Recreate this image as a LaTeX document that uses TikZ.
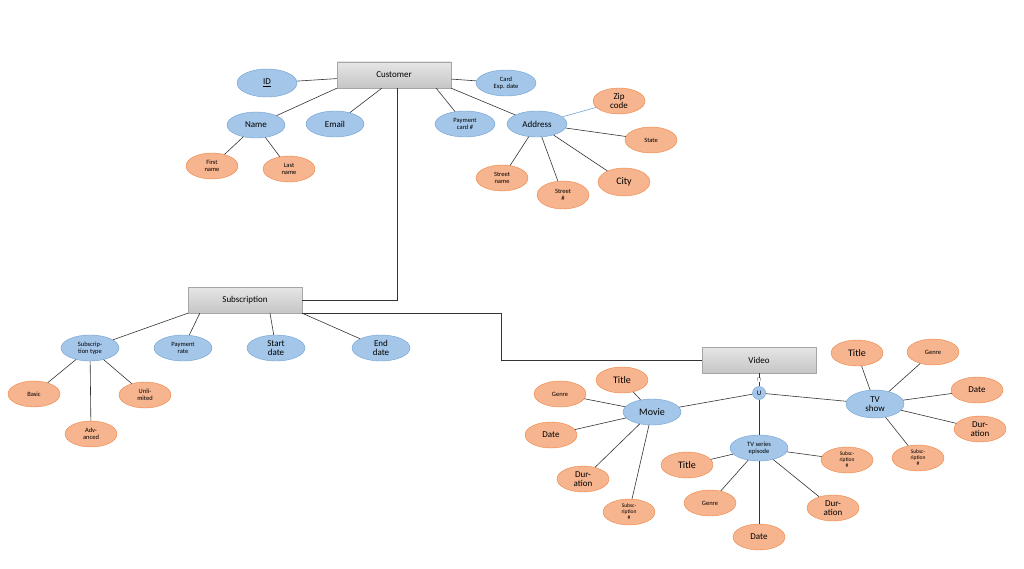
\documentclass[tikz,border=0pt]{standalone}
\usepackage{fontspec}
\setmainfont{Carlito}
\usetikzlibrary{shapes.geometric}
\definecolor{bfill}{HTML}{A4C6E8}
\definecolor{bdraw}{HTML}{6F9FD3}
\definecolor{ofill}{HTML}{F6B48F}
\definecolor{odraw}{HTML}{EE8440}
\begin{document}
\begin{tikzpicture}[x=1pt,y=-1pt,
  ent/.style={draw=gray!70,top color=gray!20,bottom color=gray!45,minimum width=114pt,minimum height=26pt,font=\fontsize{9}{10}\selectfont,inner sep=0pt},
  ba/.style={ellipse,draw=bdraw,fill=bfill,minimum width=58pt,minimum height=26pt,inner sep=0pt,align=center,font=\fontsize{9}{9}\selectfont},
  oa/.style={ellipse,draw=odraw,fill=ofill,minimum width=52pt,minimum height=26pt,inner sep=0pt,align=center,font=\fontsize{9}{9}\selectfont},
  sm/.style={font=\fontsize{6.5}{7}\selectfont},
  ln/.style={draw=black!80,line width=0.6pt}]
\useasboundingbox (0,0) rectangle (1024,569);
\node[ent] (cust) at (394,75) {Customer};
\node[ent] (sub) at (245,300) {Subscription};
\node[ent] (vid) at (759,360) {Video};
% customer attrs
\node[ba,minimum width=60pt,minimum height=28pt] (id) at (267,83) {\underline{ID}};
\node[ba] (name) at (256,125) {Name};
\node[ba] (email) at (335,124) {Email};
\node[ba,minimum width=60pt,sm] (pay) at (465,124) {Payment\\card \#};
\node[ba,minimum width=60pt] (addr) at (537,124) {Address};
\node[ba,minimum width=60pt,sm] (card) at (506,83) {Card\\Exp. date};
\node[oa] (zip) at (619,101) {Zip\\code};
\node[oa,sm] (state) at (651,140) {State};
\node[oa,minimum height=28pt,font=\fontsize{10}{10}\selectfont] (city) at (624,182) {City};
\node[oa,sm,minimum height=28pt] (stn) at (563,195) {Street\\\#};
\node[oa,sm] (stname) at (502,178) {Street\\name};
\node[oa,sm] (first) at (212,166) {First\\name};
\node[oa,sm] (last) at (289,169) {Last\\name};
\draw[ln] (cust) -- (id); \draw[ln] (cust.south west) -- (name);
\draw[ln] (cust.south west)++(45,0) -- (email);
\draw[ln] (cust.south east)++(-15,0) -- (pay);
\draw[ln] (cust.south east) -- (addr);
\draw[ln] (cust) -- (card);
\draw[draw=bdraw,line width=0.6pt] (addr) -- (zip);
\draw[ln] (addr) -- (state); \draw[ln] (addr) -- (city);
\draw[ln] (addr) -- (stn); \draw[ln] (addr) -- (stname);
\draw[ln] (name) -- (first); \draw[ln] (name) -- (last);
% subscription
\coordinate (c1) at (397,300);
\draw[ln] (cust.south -| c1) -- (c1) -- (sub.east);
\coordinate (s1) at (302,313); \coordinate (s2) at (501,313); \coordinate (s3) at (501,360);
\draw[ln] (s1) -- (s2) -- (s3) -- (vid.west);
\node[ba,sm] (stype) at (90,348) {Subscrip-\\tion type};
\node[ba,sm] (prate) at (183,348) {Payment\\rate};
\node[ba] (start) at (276,348) {Start\\date};
\node[ba] (end) at (381,348) {End\\date};
\node[oa,sm] (basic) at (34,394) {Basic};
\node[oa,sm] (adv) at (91,434) {Adv-\\anced};
\node[oa,sm] (unl) at (145,395) {Unli-\\mited};
\draw[ln] (sub.south west) -- (stype);
\draw[ln] (sub.south west)++(12,0) -- (prate);
\draw[ln] (sub.south)++(25,0) -- (start);
\draw[ln] (sub.south east) -- (end);
\draw[ln] (stype) -- (basic); \draw[ln] (stype) -- (adv); \draw[ln] (stype) -- (unl);
% video
\node[circle,draw=bdraw,fill=bfill,minimum size=13pt,inner sep=0pt,font=\fontsize{7}{7}\selectfont] (u) at (759,393) {U};
\node[font=\fontsize{6}{6}\selectfont,inner sep=0pt] (cap) at (759,380) {$\cap$};
\draw[ln] (vid) -- (cap); \draw[ln] (cap) -- (u);
\node[ba,font=\fontsize{10}{10}\selectfont] (movie) at (652,412) {Movie};
\node[ba,minimum height=28pt] (tvs) at (875,404) {TV\\show};
\node[ba,sm] (tve) at (759,448) {TV series\\episode};
\draw[ln] (u) -- (movie); \draw[ln] (u) -- (tvs); \draw[ln] (u) -- (tve);
\node[oa,font=\fontsize{10}{10}\selectfont] (mt) at (622,380) {Title};
\node[oa,sm] (mg) at (560,394) {Genre};
\node[oa] (md) at (551,435) {Date};
\node[oa] (mdu) at (583,479) {Dur-\\ation};
\node[oa,font=\fontsize{5.5}{6}\selectfont] (ms) at (629,512) {Subsc-\\ription\\\#};
\foreach \n in {mt,mg,md,mdu,ms} \draw[ln] (movie) -- (\n);
\node[oa,font=\fontsize{10}{10}\selectfont] (et) at (687,465) {Title};
\node[oa,sm] (eg) at (710,503) {Genre};
\node[oa] (ed) at (759,537) {Date};
\node[oa] (edu) at (833,508) {Dur-\\ation};
\node[oa,font=\fontsize{5.5}{6}\selectfont] (es) at (847,460) {Subsc-\\ription\\\#};
\foreach \n in {et,eg,ed,edu,es} \draw[ln] (tve) -- (\n);
\node[oa,font=\fontsize{10}{10}\selectfont] (tt) at (857,353) {Title};
\node[oa,sm] (tg) at (933,352) {Genre};
\node[oa] (td) at (977,390) {Date};
\node[oa] (tdu) at (980,429) {Dur-\\ation};
\node[oa,font=\fontsize{5.5}{6}\selectfont] (ts) at (918,458) {Subsc-\\ription\\\#};
\foreach \n in {tt,tg,td,tdu,ts} \draw[ln] (tvs) -- (\n);
\end{tikzpicture}
\end{document}
